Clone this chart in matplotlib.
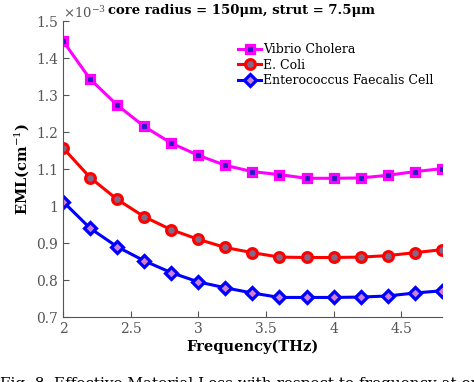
import matplotlib.pyplot as plt
import numpy as np

freq = [2.0, 2.2, 2.4, 2.6, 2.8, 3.0, 3.2, 3.4, 3.6, 3.8, 4.0, 4.2, 4.4, 4.6, 4.8]
vibrio = [1.446, 1.343, 1.273, 1.215, 1.170, 1.137, 1.110, 1.093, 1.085, 1.075, 1.075, 1.076, 1.083, 1.093, 1.101]
ecoli = [1.157, 1.077, 1.018, 0.971, 0.936, 0.910, 0.888, 0.874, 0.862, 0.861, 0.861, 0.862, 0.866, 0.874, 0.882]
faecalis = [1.012, 0.940, 0.890, 0.852, 0.820, 0.795, 0.779, 0.765, 0.753, 0.753, 0.753, 0.754, 0.757, 0.765, 0.771]
labels = ['Vibrio Cholera', 'E. Coli', 'Enterococcus Faecalis Cell']

plt.rcParams['font.family'] = ['DejaVu Serif']
plt.rcParams['mathtext.fontset'] = 'dejavuserif'
gray = '#555555'

fig = plt.figure(figsize=(4.74, 3.82), dpi=100)
ax = fig.add_axes([0.133, 0.170, 0.799, 0.775])

ax.plot(freq, vibrio, '-s', color='#ff00ff', lw=2.2, ms=6, mfc='#2020c0', mec='#ff00ff', mew=2.3, label=labels[0])
ax.plot(freq, ecoli, '-o', color='#ff0000', lw=2.2, ms=7, mfc='#806a8a', mec='#ff0000', mew=2.3, label=labels[1])
ax.plot(freq, faecalis, '-D', color='#0000ff', lw=2.2, ms=6, mfc='#d080d0', mec='#0000ff', mew=2.3, label=labels[2])

ax.set_xlim(2, 4.8)
ax.set_ylim(0.7, 1.5)
ax.set_xticks([2, 2.5, 3, 3.5, 4, 4.5])
ax.set_xticklabels(['2', '2.5', '3', '3.5', '4', '4.5'])
ax.set_yticks(np.arange(0.7, 1.51, 0.1))
ax.set_yticklabels(['0.7', '0.8', '0.9', '1', '1.1', '1.2', '1.3', '1.4', '1.5'])
ax.tick_params(direction='in', length=4, colors=gray, labelsize=10, width=0.8)
for s in ['top', 'right']:
    ax.spines[s].set_visible(False)
for s in ['left', 'bottom']:
    ax.spines[s].set_color(gray)
    ax.spines[s].set_linewidth(0.8)

ax.set_xlabel('Frequency(THz)', fontsize=10.5, fontweight='bold', labelpad=3)
ax.set_ylabel('EML(cm$^{-1}$)', fontsize=10.5, fontweight='bold', labelpad=4)
ax.set_title('core radius = 150μm, strut = 7.5μm', fontsize=9.5, fontweight='bold', pad=5, x=0.47)
ax.text(0.0, 1.0, r'$\times10^{-3}$', transform=ax.transAxes, color=gray, fontsize=9.5, va='bottom', ha='left')

leg = ax.legend(loc='upper right', bbox_to_anchor=(1.0, 0.955), frameon=False, fontsize=9,
                handlelength=1.9, handletextpad=0.1, labelspacing=0.2, borderpad=0.2)

fig.text(0.0, -0.005, 'Fig. 8. Effective Material Loss with respect to frequency at optimum design',
         fontsize=11, va='center', ha='left')

fig.savefig('out.png', dpi=100)
